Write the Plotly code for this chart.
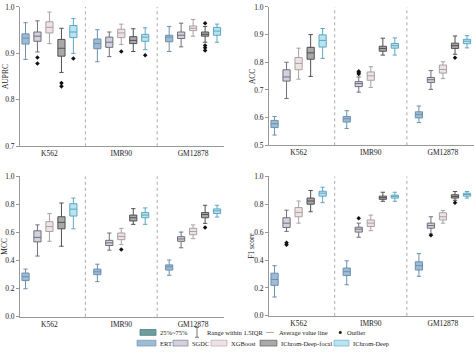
import plotly.graph_objects as go

methods = ["ERT", "SGDC", "XGBoost", "IChrom-Deep-focal", "IChrom-Deep"]
cells = ["K562", "IMR90", "GM12878"]

# rows: methods, cols: cell lines
auprc_lo = [[0.887, 0.882, 0.904], [0.903, 0.893, 0.914], [0.921, 0.919, 0.937], [0.859, 0.904, 0.924], [0.900, 0.908, 0.924]]
auprc_q1 = [[0.920, 0.910, 0.925], [0.926, 0.913, 0.932], [0.944, 0.934, 0.949], [0.894, 0.921, 0.937], [0.934, 0.926, 0.939]]
auprc_med = [[0.933, 0.921, 0.935], [0.937, 0.924, 0.939], [0.956, 0.944, 0.954], [0.911, 0.928, 0.941], [0.946, 0.935, 0.948]]
auprc_q3 = [[0.942, 0.931, 0.939], [0.946, 0.935, 0.946], [0.968, 0.952, 0.959], [0.930, 0.936, 0.946], [0.960, 0.941, 0.956]]
auprc_hi = [[0.966, 0.951, 0.958], [0.970, 0.946, 0.965], [0.989, 0.963, 0.973], [0.954, 0.953, 0.958], [0.975, 0.955, 0.963]]
auprc_out = [(1, 0, 0.891), (1, 0, 0.878), (3, 0, 0.836), (3, 0, 0.829), (4, 0, 0.889), (2, 1, 0.904), (4, 1, 0.896),
             (3, 2, 0.965), (3, 2, 0.917), (3, 2, 0.912), (3, 2, 0.906)]

acc_lo = [[0.537, 0.561, 0.582], [0.669, 0.692, 0.702], [0.739, 0.709, 0.741], [0.749, 0.826, 0.829], [0.814, 0.826, 0.852]]
acc_q1 = [[0.564, 0.584, 0.599], [0.732, 0.712, 0.727], [0.773, 0.735, 0.761], [0.811, 0.840, 0.850], [0.855, 0.851, 0.867]]
acc_med = [[0.578, 0.596, 0.611], [0.747, 0.723, 0.737], [0.796, 0.751, 0.774], [0.834, 0.850, 0.860], [0.879, 0.860, 0.876]]
acc_q3 = [[0.590, 0.604, 0.621], [0.773, 0.730, 0.745], [0.817, 0.765, 0.790], [0.854, 0.858, 0.869], [0.899, 0.868, 0.883]]
acc_hi = [[0.604, 0.625, 0.642], [0.800, 0.747, 0.770], [0.851, 0.784, 0.802], [0.900, 0.887, 0.895], [0.922, 0.888, 0.896]]
acc_out = [(1, 1, 0.767), (1, 1, 0.762), (1, 1, 0.758), (3, 2, 0.816)]

mcc_lo = [[0.200, 0.251, 0.296], [0.433, 0.475, 0.492], [0.538, 0.515, 0.557], [0.503, 0.659, 0.666], [0.627, 0.659, 0.711]]
mcc_q1 = [[0.258, 0.300, 0.333], [0.534, 0.508, 0.538], [0.608, 0.550, 0.585], [0.627, 0.683, 0.706], [0.718, 0.706, 0.736]]
mcc_med = [[0.286, 0.321, 0.356], [0.566, 0.527, 0.555], [0.643, 0.573, 0.608], [0.673, 0.706, 0.729], [0.767, 0.725, 0.755]]
mcc_q3 = [[0.312, 0.340, 0.370], [0.613, 0.545, 0.571], [0.678, 0.597, 0.631], [0.713, 0.725, 0.743], [0.806, 0.743, 0.769]]
mcc_hi = [[0.340, 0.375, 0.405], [0.655, 0.597, 0.604], [0.736, 0.630, 0.655], [0.811, 0.771, 0.795], [0.846, 0.776, 0.795]]
mcc_out = [(2, 1, 0.480), (3, 2, 0.636)]

f1_lo = [[0.135, 0.223, 0.284], [0.606, 0.564, 0.587], [0.665, 0.611, 0.665], [0.747, 0.822, 0.829], [0.812, 0.822, 0.845]]
f1_q1 = [[0.219, 0.289, 0.329], [0.634, 0.601, 0.629], [0.711, 0.641, 0.688], [0.801, 0.836, 0.845], [0.859, 0.845, 0.859]]
f1_med = [[0.261, 0.317, 0.360], [0.665, 0.622, 0.648], [0.742, 0.665, 0.711], [0.824, 0.848, 0.857], [0.880, 0.857, 0.871]]
f1_q3 = [[0.306, 0.343, 0.388], [0.704, 0.636, 0.665], [0.777, 0.688, 0.740], [0.845, 0.859, 0.869], [0.894, 0.866, 0.880]]
f1_hi = [[0.360, 0.395, 0.446], [0.758, 0.665, 0.711], [0.824, 0.723, 0.756], [0.899, 0.887, 0.892], [0.923, 0.887, 0.892]]
f1_out = [(1, 0, 0.524), (1, 0, 0.510), (1, 1, 0.700), (1, 2, 0.578), (3, 2, 0.812)]

fills = ["#9dbcd4", "#d2d2de", "#efe2e4", "#a9a9a9", "#b8e3f1"]
lines = ["#6b8fae", "#6f6f7c", "#a9a0a3", "#505050", "#5ea6bf"]
offsets = [-0.333, -0.167, 0.0, 0.167, 0.333]

W, H = 474, 353
def px(x):
    return x / W
def py(y):
    return 1 - y / H

FONT = "Liberation Serif"
fig = go.Figure()

panels = [
    ("AUPRC", auprc_lo, auprc_q1, auprc_med, auprc_q3, auprc_hi, auprc_out, "x", "y"),
    ("ACC", acc_lo, acc_q1, acc_med, acc_q3, acc_hi, acc_out, "x2", "y2"),
    ("MCC", mcc_lo, mcc_q1, mcc_med, mcc_q3, mcc_hi, mcc_out, "x3", "y3"),
    ("F1 score", f1_lo, f1_q1, f1_med, f1_q3, f1_hi, f1_out, "x4", "y4"),
]

for name, lo, q1, med, q3, hi, outs, xa, ya in panels:
    for m in range(len(methods)):
        fig.add_trace(go.Box(
            x=[g + offsets[m] for g in range(len(cells))],
            lowerfence=lo[m], q1=q1[m], median=med[m], q3=q3[m], upperfence=hi[m],
            width=0.1, whiskerwidth=0.6,
            fillcolor=fills[m], line=dict(color=lines[m], width=1),
            name=methods[m], showlegend=False, xaxis=xa, yaxis=ya,
            hoverinfo="skip",
        ))
    fig.add_trace(go.Scatter(
        x=[g + offsets[m] for m, g, v in outs], y=[v for m, g, v in outs],
        mode="markers", marker=dict(color="#111", size=3.5, symbol="diamond"),
        showlegend=False, xaxis=xa, yaxis=ya, hoverinfo="skip",
    ))

domains = {
    "": ([px(20), px(224)], [py(146), py(3)], [0.7, 1.0], 0.1),
    "2": ([px(269), 1.0], [py(145), py(3)], [0.5, 1.0], 0.1),
    "3": ([px(20), px(224)], [py(321), py(177)], [0.0, 1.0], 0.2),
    "4": ([px(269), 1.0], [py(320), py(177)], [0.0, 1.0], 0.2),
}
axfont = dict(family=FONT, size=7.5, color="#222")
legfont = dict(family=FONT, size=6.5, color="#222")
layout = {}
shapes = []
for k, (xd, yd, yr, dt) in domains.items():
    layout["xaxis" + k] = dict(domain=xd, anchor="y" + k, range=[-0.41, 2.43],
                               tickmode="array", tickvals=[0, 1, 2], ticktext=cells,
                               showline=True, linecolor="#999", linewidth=1, ticks="",
                               showgrid=False, zeroline=False, tickfont=axfont, fixedrange=True)
    layout["yaxis" + k] = dict(domain=yd, anchor="x" + k, range=yr, dtick=dt, tick0=0,
                               tickformat=".1f", showline=True, linecolor="#999", linewidth=1,
                               ticks="outside", ticklen=3, tickcolor="#999",
                               showgrid=False, zeroline=False, tickfont=axfont, fixedrange=True)
    for xv in (0.5, 1.5):
        shapes.append(dict(type="line", xref="x" + k, yref="y" + k + " domain" if k else "y domain",
                           x0=xv, x1=xv, y0=0, y1=1, line=dict(color="#aaa", width=1, dash="dot")))

annotations = []
for txt, x, y in [("AUPRC", 5, 75), ("ACC", 252, 74), ("MCC", 5, 249), ("F1 score", 252, 248)]:
    annotations.append(dict(text=txt, x=px(x), y=py(y), xref="paper", yref="paper",
                            textangle=-90, showarrow=False, font=axfont,
                            xanchor="center", yanchor="middle"))

# legend row 1
r1 = 337
shapes.append(dict(type="rect", xref="paper", yref="paper", x0=px(140), x1=px(156), y0=py(340), y1=py(334),
                   fillcolor="#6c9e9f", line=dict(color="#527f80", width=0.8)))
shapes.append(dict(type="line", xref="paper", yref="paper", x0=px(197), x1=px(197), y0=py(342), y1=py(332),
                   line=dict(color="#777", width=1)))
for yy in (332, 342):
    shapes.append(dict(type="line", xref="paper", yref="paper", x0=px(195), x1=px(199), y0=py(yy), y1=py(yy),
                       line=dict(color="#777", width=1)))
shapes.append(dict(type="line", xref="paper", yref="paper", x0=px(266), x1=px(274), y0=py(r1), y1=py(r1),
                   line=dict(color="#aaa", width=1)))
shapes.append(dict(type="circle", xref="paper", yref="paper", x0=px(339), x1=px(341.5), y0=py(338.3), y1=py(335.8),
                   fillcolor="#111", line=dict(color="#111", width=0.5)))
for txt, x in [("25%~75%", 158), ("Range within 1.5IQR", 205), ("Average value line", 277), ("Outlier", 345)]:
    annotations.append(dict(text=txt, x=px(x), y=py(r1), xref="paper", yref="paper", showarrow=False,
                            font=legfont, xanchor="left", yanchor="middle"))

# legend row 2
r2 = 348
leg2 = [(137, 156, 158), (173, 188, 190), (211, 227, 229), (260, 277, 279), (334, 349, 351)]
for m, (a, b, t) in enumerate(leg2):
    shapes.append(dict(type="rect", xref="paper", yref="paper", x0=px(a), x1=px(b), y0=py(351), y1=py(345),
                       fillcolor=fills[m], line=dict(color=lines[m], width=0.6)))
    annotations.append(dict(text=methods[m], x=px(t), y=py(r2), xref="paper", yref="paper", showarrow=False,
                            font=legfont, xanchor="left", yanchor="middle"))

fig.update_layout(
    width=W, height=H, margin=dict(l=0, r=0, t=0, b=0),
    paper_bgcolor="white", plot_bgcolor="white",
    showlegend=False, shapes=shapes, annotations=annotations,
    font=axfont, **layout,
)
fig.write_html("out.html")
